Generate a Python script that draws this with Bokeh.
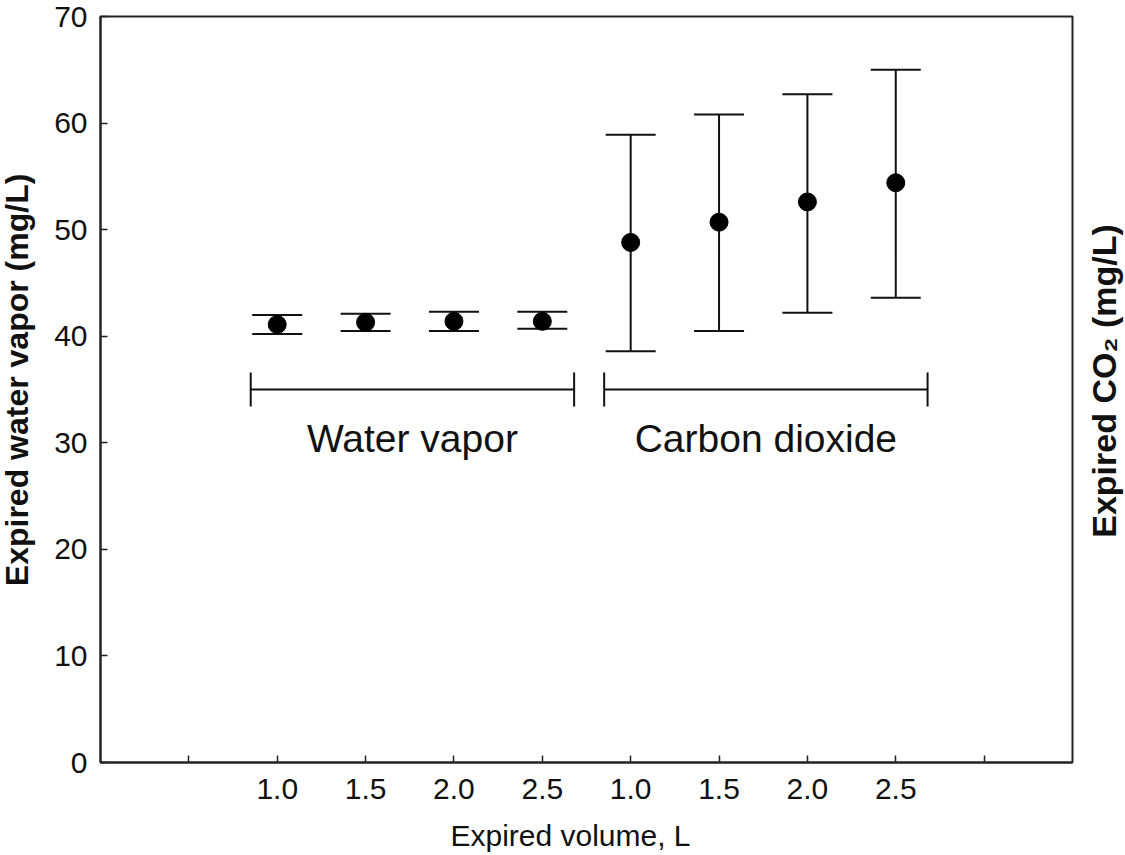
import math
from bokeh.plotting import figure
from bokeh.layouts import row, column
from bokeh.models import Range1d, FixedTicker, Whisker, TeeHead, ColumnDataSource
from bokeh.core.properties import value
from bokeh.embed import file_html
from bokeh.resources import INLINE

# ---- data ----
groups = ["Water vapor", "Carbon dioxide"]
volumes = ["1.0", "1.5", "2.0", "2.5"]
water_mean = [41.1, 41.3, 41.4, 41.4]
water_upper = [42.0, 42.1, 42.3, 42.3]
water_lower = [40.2, 40.5, 40.5, 40.7]
co2_mean = [48.8, 50.7, 52.6, 54.4]
co2_upper = [58.9, 60.8, 62.7, 65.0]
co2_lower = [38.6, 40.5, 42.2, 43.6]
y_ticks = [0, 10, 20, 30, 40, 50, 60, 70]
x_title = "Expired volume, L"
y_title = "Expired water vapor (mg/L)"
y2_title = "Expired CO₂ (mg/L)"

FONT = "Liberation Sans"
INK = "#111111"

# ---- layout sizes (pixels) ----
W, H = 1125, 855
LEFT_W, RIGHT_W, BOTTOM_H = 48, 51, 40
MAIN_W = W - LEFT_W - RIGHT_W
MAIN_H = H - BOTTOM_H
TOP, BOT = 16, 53

# category positions: slots 2..5 for water vapor, 6..9 for CO2
n = len(volumes)
water_x = [2 + i for i in range(n)]
co2_x = [2 + n + i for i in range(n)]

yr = Range1d(0, 70)
p = figure(width=MAIN_W, height=MAIN_H, x_range=Range1d(0, 11), y_range=yr,
           output_backend="svg", toolbar_location=None,
           min_border_left=100 - LEFT_W, min_border_right=2, min_border_top=TOP, min_border_bottom=BOT)
p.title.visible = False
p.background_fill_color = "white"
p.border_fill_color = "white"
p.xgrid.visible = False
p.ygrid.visible = False
p.outline_line_color = "#222222"
p.outline_line_width = 2

overrides = {1: "", 10: ""}
for xs in (water_x, co2_x):
    for xv, lab in zip(xs, volumes):
        overrides[xv] = lab
p.xaxis.ticker = FixedTicker(ticks=list(range(1, 11)))
p.xaxis.major_label_overrides = overrides
p.yaxis.ticker = FixedTicker(ticks=y_ticks)

for ax in (p.xaxis[0], p.yaxis[0]):
    ax.major_tick_in = 7
    ax.major_tick_out = 0
    ax.minor_tick_line_color = None
    ax.axis_line_color = "#222222"
    ax.axis_line_width = 2
    ax.major_tick_line_color = "#222222"
    ax.major_tick_line_width = 1.5
    ax.major_label_text_font = FONT
    ax.major_label_text_font_size = "30px"
    ax.major_label_text_color = INK
p.xaxis.major_label_standoff = 16
p.yaxis.major_label_standoff = 13

# error bars + means
for xs, m, up, lo in ((water_x, water_mean, water_upper, water_lower),
                      (co2_x, co2_mean, co2_upper, co2_lower)):
    src = ColumnDataSource(dict(x=xs, m=m, up=up, lo=lo))
    w = Whisker(source=src, base="x", upper="up", lower="lo", dimension="height",
                line_color="#111111", line_width=2,
                upper_head=TeeHead(size=50, line_width=2, line_color="#111111"),
                lower_head=TeeHead(size=50, line_width=2, line_color="#111111"))
    p.add_layout(w)
    p.scatter("x", "m", source=src, size=18, color="black")

# group brackets and labels
bracket_y = 35
tick_half = 1.6
pad_left, pad_right = 0.30, 0.36
label_y = 30.4
for xs, name in ((water_x, groups[0]), (co2_x, groups[1])):
    x0 = xs[0] - pad_left
    x1 = xs[-1] + pad_right
    p.segment(x0=[x0, x0, x1], y0=[bracket_y, bracket_y - tick_half, bracket_y - tick_half],
              x1=[x1, x0, x1], y1=[bracket_y, bracket_y + tick_half, bracket_y + tick_half],
              line_color="#111111", line_width=2)
    p.text(x=[(xs[0] + xs[-1]) / 2 + 0.03], y=[label_y], text=[name],
           text_font=value(FONT), text_font_size="39px", text_color=INK,
           text_align="center", text_baseline="middle")


def side_fig(width, height, x_range, y_range, top=0, bottom=0):
    f = figure(width=width, height=height, x_range=x_range, y_range=y_range,
               output_backend="svg", toolbar_location=None,
               x_axis_type=None, y_axis_type=None,
               min_border_left=0, min_border_right=0, min_border_top=top, min_border_bottom=bottom)
    f.title.visible = False
    f.grid.visible = False
    f.outline_line_color = None
    f.background_fill_color = "white"
    f.border_fill_color = "white"
    return f


# left title (bottom-to-top), shares the y mapping of the main plot
left = side_fig(LEFT_W, MAIN_H, Range1d(0, LEFT_W), yr, TOP, BOT)
left.text(x=[16], y=[35.9], text=[y_title], angle=math.pi / 2,
          text_font=value(FONT), text_font_size="32px", text_font_style="bold",
          text_color=INK, text_align="center", text_baseline="middle")

# right title (bottom-to-top)
right = side_fig(RIGHT_W, MAIN_H, Range1d(0, RIGHT_W), yr, TOP, BOT)
right.text(x=[29], y=[35.8], text=[y2_title], angle=math.pi / 2,
           text_font=value(FONT), text_font_size="34px", text_font_style="bold",
           text_color=INK, text_align="center", text_baseline="middle")

# bottom title
bottom = side_fig(W, BOTTOM_H, Range1d(0, W), Range1d(0, BOTTOM_H))
bottom.text(x=[570], y=[20], text=[x_title],
            text_font=value(FONT), text_font_size="30px", text_color=INK,
            text_align="center", text_baseline="middle")

layout = column(row(left, p, right, spacing=0), bottom, spacing=0)
open("out.html", "w").write(file_html(layout, INLINE))
